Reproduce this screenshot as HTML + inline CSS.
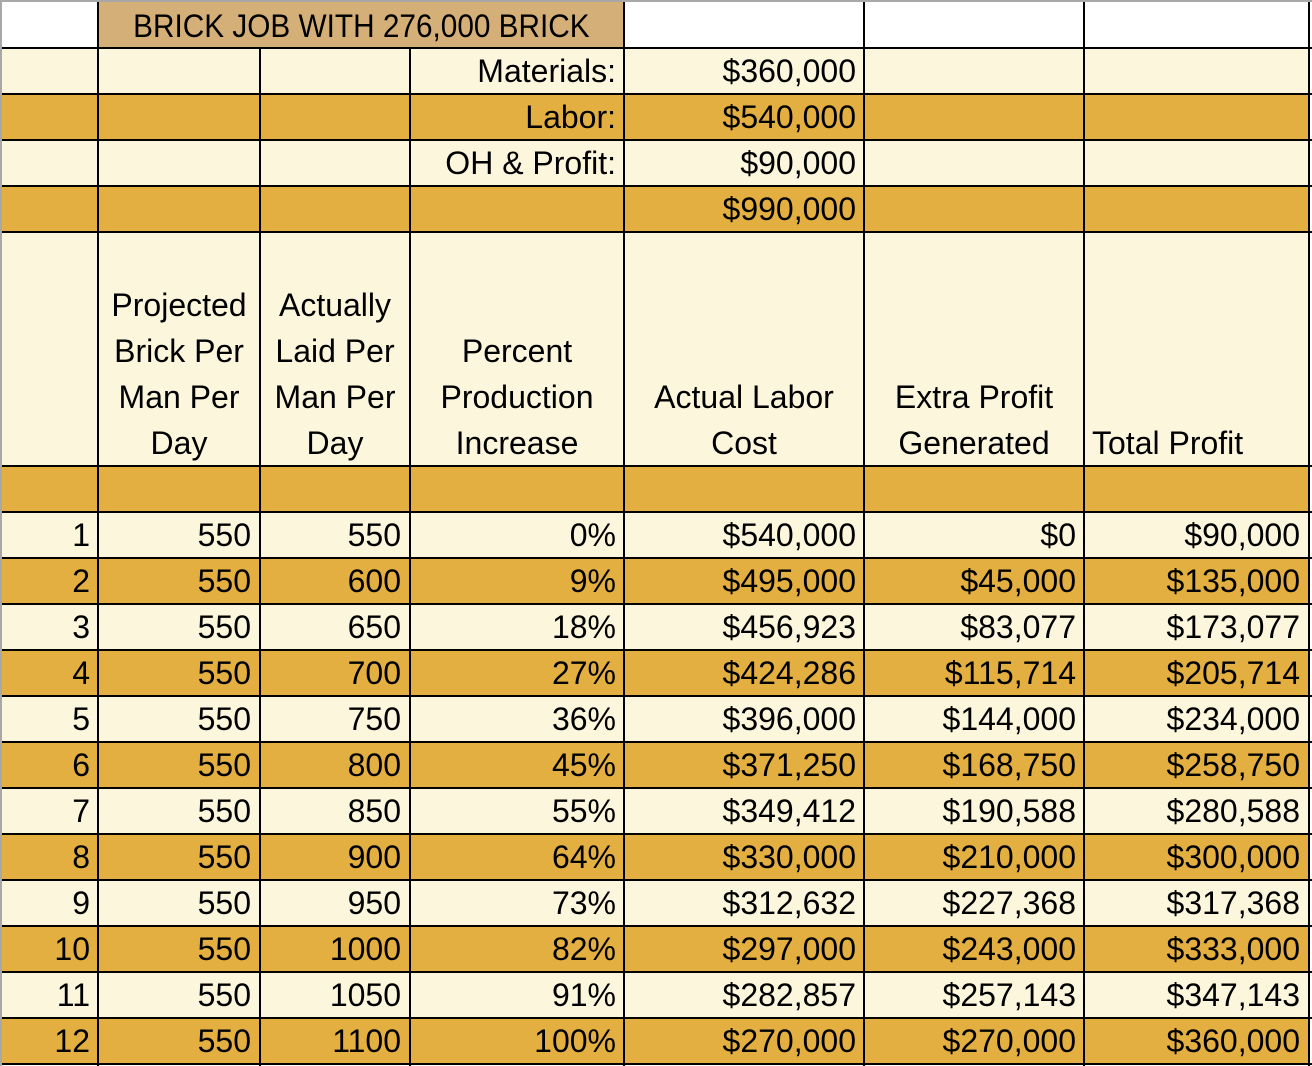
<!DOCTYPE html>
<html><head><meta charset="utf-8"><style>
*{margin:0;padding:0;box-sizing:border-box}
body{width:1312px;height:1066px;background:#fff;overflow:hidden;font-family:"Liberation Sans",Arial,sans-serif;font-size:32px;color:#000}
#w{position:relative;width:1312px;height:1066px}
.bg{position:absolute;left:0;width:1310px;height:46px}
.cr{background:#FBF6DC}
.gd{background:#E3AF40}
.t{position:absolute;height:46px;line-height:46px;white-space:nowrap;text-align:right}
.h{position:absolute;height:2px;left:0;width:1310px;background:#000}
.v{position:absolute;width:2px;background:#000}
.c0{left:0;width:90px}
.c1{left:99px;width:152px}
.c2{left:261px;width:140px}
.c3{left:411px;width:205px}
.c4{left:625px;width:231px}
.c5{left:865px;width:211px}
.c6{left:1086px;width:214px}
.ctr{text-align:center}
</style></head><body><div id="w">
<!-- title row -->
<div style="position:absolute;left:99px;top:0;width:524px;height:47px;background:#D5AF78"></div>
<!-- top rows -->
<div class="bg cr" style="top:49px"></div>
<div class="bg gd" style="top:95px"></div>
<div class="bg cr" style="top:141px"></div>
<div class="bg gd" style="top:187px"></div>
<div class="bg cr" style="top:233px;height:232px"></div>
<div class="bg gd" style="top:467px"></div>
<div class="bg cr" style="top:513px"></div>
<div class="bg gd" style="top:559px"></div>
<div class="bg cr" style="top:605px"></div>
<div class="bg gd" style="top:651px"></div>
<div class="bg cr" style="top:697px"></div>
<div class="bg gd" style="top:743px"></div>
<div class="bg cr" style="top:789px"></div>
<div class="bg gd" style="top:835px"></div>
<div class="bg cr" style="top:881px"></div>
<div class="bg gd" style="top:927px"></div>
<div class="bg cr" style="top:973px"></div>
<div class="bg gd" style="top:1019px"></div>

<!-- borders -->
<div style="position:absolute;left:0;top:0;width:1312px;height:2px;background:#A8A8A8"></div>
<div style="position:absolute;left:0;top:0;width:2px;height:1066px;background:#A8A8A8"></div>
<div class="h" style="top:47px;left:2px"></div>
<div class="h" style="top:93px;left:2px"></div>
<div class="h" style="top:139px;left:2px"></div>
<div class="h" style="top:185px;left:2px"></div>
<div class="h" style="top:231px;left:2px"></div>
<div class="h" style="top:465px;left:2px"></div>
<div class="h" style="top:511px;left:2px"></div>
<div class="h" style="top:557px;left:2px"></div>
<div class="h" style="top:603px;left:2px"></div>
<div class="h" style="top:649px;left:2px"></div>
<div class="h" style="top:695px;left:2px"></div>
<div class="h" style="top:741px;left:2px"></div>
<div class="h" style="top:787px;left:2px"></div>
<div class="h" style="top:833px;left:2px"></div>
<div class="h" style="top:879px;left:2px"></div>
<div class="h" style="top:925px;left:2px"></div>
<div class="h" style="top:971px;left:2px"></div>
<div class="h" style="top:1017px;left:2px"></div>
<div class="h" style="top:1063px;left:2px"></div>
<div class="v" style="left:97px;top:2px;height:1064px"></div>
<div class="v" style="left:259px;top:47px;height:1019px"></div>
<div class="v" style="left:409px;top:47px;height:1019px"></div>
<div class="v" style="left:623px;top:2px;height:1064px"></div>
<div class="v" style="left:863px;top:2px;height:1064px"></div>
<div class="v" style="left:1083px;top:2px;height:1064px"></div>
<div class="v" style="left:1308px;top:2px;height:1064px"></div>

<!-- title -->
<div class="t ctr" style="left:99px;width:524px;top:3px"><span style="display:inline-block;transform:scaleX(0.93)">BRICK JOB WITH 276,000 BRICK</span></div>

<!-- top section text -->
<div class="t c3" style="top:48px">Materials:</div><div class="t c4" style="top:48px">$360,000</div>
<div class="t c3" style="top:94px">Labor:</div><div class="t c4" style="top:94px">$540,000</div>
<div class="t c3" style="top:140px">OH &amp; Profit:</div><div class="t c4" style="top:140px">$90,000</div>
<div class="t c4" style="top:186px">$990,000</div>

<!-- header -->
<div class="t ctr" style="left:99px;width:160px;top:282px">Projected</div>
<div class="t ctr" style="left:99px;width:160px;top:328px">Brick Per</div>
<div class="t ctr" style="left:99px;width:160px;top:374px">Man Per</div>
<div class="t ctr" style="left:99px;width:160px;top:420px">Day</div>
<div class="t ctr" style="left:261px;width:148px;top:282px">Actually</div>
<div class="t ctr" style="left:261px;width:148px;top:328px">Laid Per</div>
<div class="t ctr" style="left:261px;width:148px;top:374px">Man Per</div>
<div class="t ctr" style="left:261px;width:148px;top:420px">Day</div>
<div class="t ctr" style="left:411px;width:212px;top:328px">Percent</div>
<div class="t ctr" style="left:411px;width:212px;top:374px">Production</div>
<div class="t ctr" style="left:411px;width:212px;top:420px">Increase</div>
<div class="t ctr" style="left:625px;width:238px;top:374px">Actual Labor</div>
<div class="t ctr" style="left:625px;width:238px;top:420px">Cost</div>
<div class="t ctr" style="left:865px;width:218px;top:374px">Extra Profit</div>
<div class="t ctr" style="left:865px;width:218px;top:420px">Generated</div>
<div class="t" style="left:1092px;width:216px;top:420px;text-align:left">Total Profit</div>

<!-- data -->
<div class="t c0" style="top:512px">1</div><div class="t c1" style="top:512px">550</div><div class="t c2" style="top:512px">550</div><div class="t c3" style="top:512px">0%</div><div class="t c4" style="top:512px">$540,000</div><div class="t c5" style="top:512px">$0</div><div class="t c6" style="top:512px">$90,000</div>
<div class="t c0" style="top:558px">2</div><div class="t c1" style="top:558px">550</div><div class="t c2" style="top:558px">600</div><div class="t c3" style="top:558px">9%</div><div class="t c4" style="top:558px">$495,000</div><div class="t c5" style="top:558px">$45,000</div><div class="t c6" style="top:558px">$135,000</div>
<div class="t c0" style="top:604px">3</div><div class="t c1" style="top:604px">550</div><div class="t c2" style="top:604px">650</div><div class="t c3" style="top:604px">18%</div><div class="t c4" style="top:604px">$456,923</div><div class="t c5" style="top:604px">$83,077</div><div class="t c6" style="top:604px">$173,077</div>
<div class="t c0" style="top:650px">4</div><div class="t c1" style="top:650px">550</div><div class="t c2" style="top:650px">700</div><div class="t c3" style="top:650px">27%</div><div class="t c4" style="top:650px">$424,286</div><div class="t c5" style="top:650px">$115,714</div><div class="t c6" style="top:650px">$205,714</div>
<div class="t c0" style="top:696px">5</div><div class="t c1" style="top:696px">550</div><div class="t c2" style="top:696px">750</div><div class="t c3" style="top:696px">36%</div><div class="t c4" style="top:696px">$396,000</div><div class="t c5" style="top:696px">$144,000</div><div class="t c6" style="top:696px">$234,000</div>
<div class="t c0" style="top:742px">6</div><div class="t c1" style="top:742px">550</div><div class="t c2" style="top:742px">800</div><div class="t c3" style="top:742px">45%</div><div class="t c4" style="top:742px">$371,250</div><div class="t c5" style="top:742px">$168,750</div><div class="t c6" style="top:742px">$258,750</div>
<div class="t c0" style="top:788px">7</div><div class="t c1" style="top:788px">550</div><div class="t c2" style="top:788px">850</div><div class="t c3" style="top:788px">55%</div><div class="t c4" style="top:788px">$349,412</div><div class="t c5" style="top:788px">$190,588</div><div class="t c6" style="top:788px">$280,588</div>
<div class="t c0" style="top:834px">8</div><div class="t c1" style="top:834px">550</div><div class="t c2" style="top:834px">900</div><div class="t c3" style="top:834px">64%</div><div class="t c4" style="top:834px">$330,000</div><div class="t c5" style="top:834px">$210,000</div><div class="t c6" style="top:834px">$300,000</div>
<div class="t c0" style="top:880px">9</div><div class="t c1" style="top:880px">550</div><div class="t c2" style="top:880px">950</div><div class="t c3" style="top:880px">73%</div><div class="t c4" style="top:880px">$312,632</div><div class="t c5" style="top:880px">$227,368</div><div class="t c6" style="top:880px">$317,368</div>
<div class="t c0" style="top:926px">10</div><div class="t c1" style="top:926px">550</div><div class="t c2" style="top:926px">1000</div><div class="t c3" style="top:926px">82%</div><div class="t c4" style="top:926px">$297,000</div><div class="t c5" style="top:926px">$243,000</div><div class="t c6" style="top:926px">$333,000</div>
<div class="t c0" style="top:972px">11</div><div class="t c1" style="top:972px">550</div><div class="t c2" style="top:972px">1050</div><div class="t c3" style="top:972px">91%</div><div class="t c4" style="top:972px">$282,857</div><div class="t c5" style="top:972px">$257,143</div><div class="t c6" style="top:972px">$347,143</div>
<div class="t c0" style="top:1018px">12</div><div class="t c1" style="top:1018px">550</div><div class="t c2" style="top:1018px">1100</div><div class="t c3" style="top:1018px">100%</div><div class="t c4" style="top:1018px">$270,000</div><div class="t c5" style="top:1018px">$270,000</div><div class="t c6" style="top:1018px">$360,000</div>
</div></body></html>
